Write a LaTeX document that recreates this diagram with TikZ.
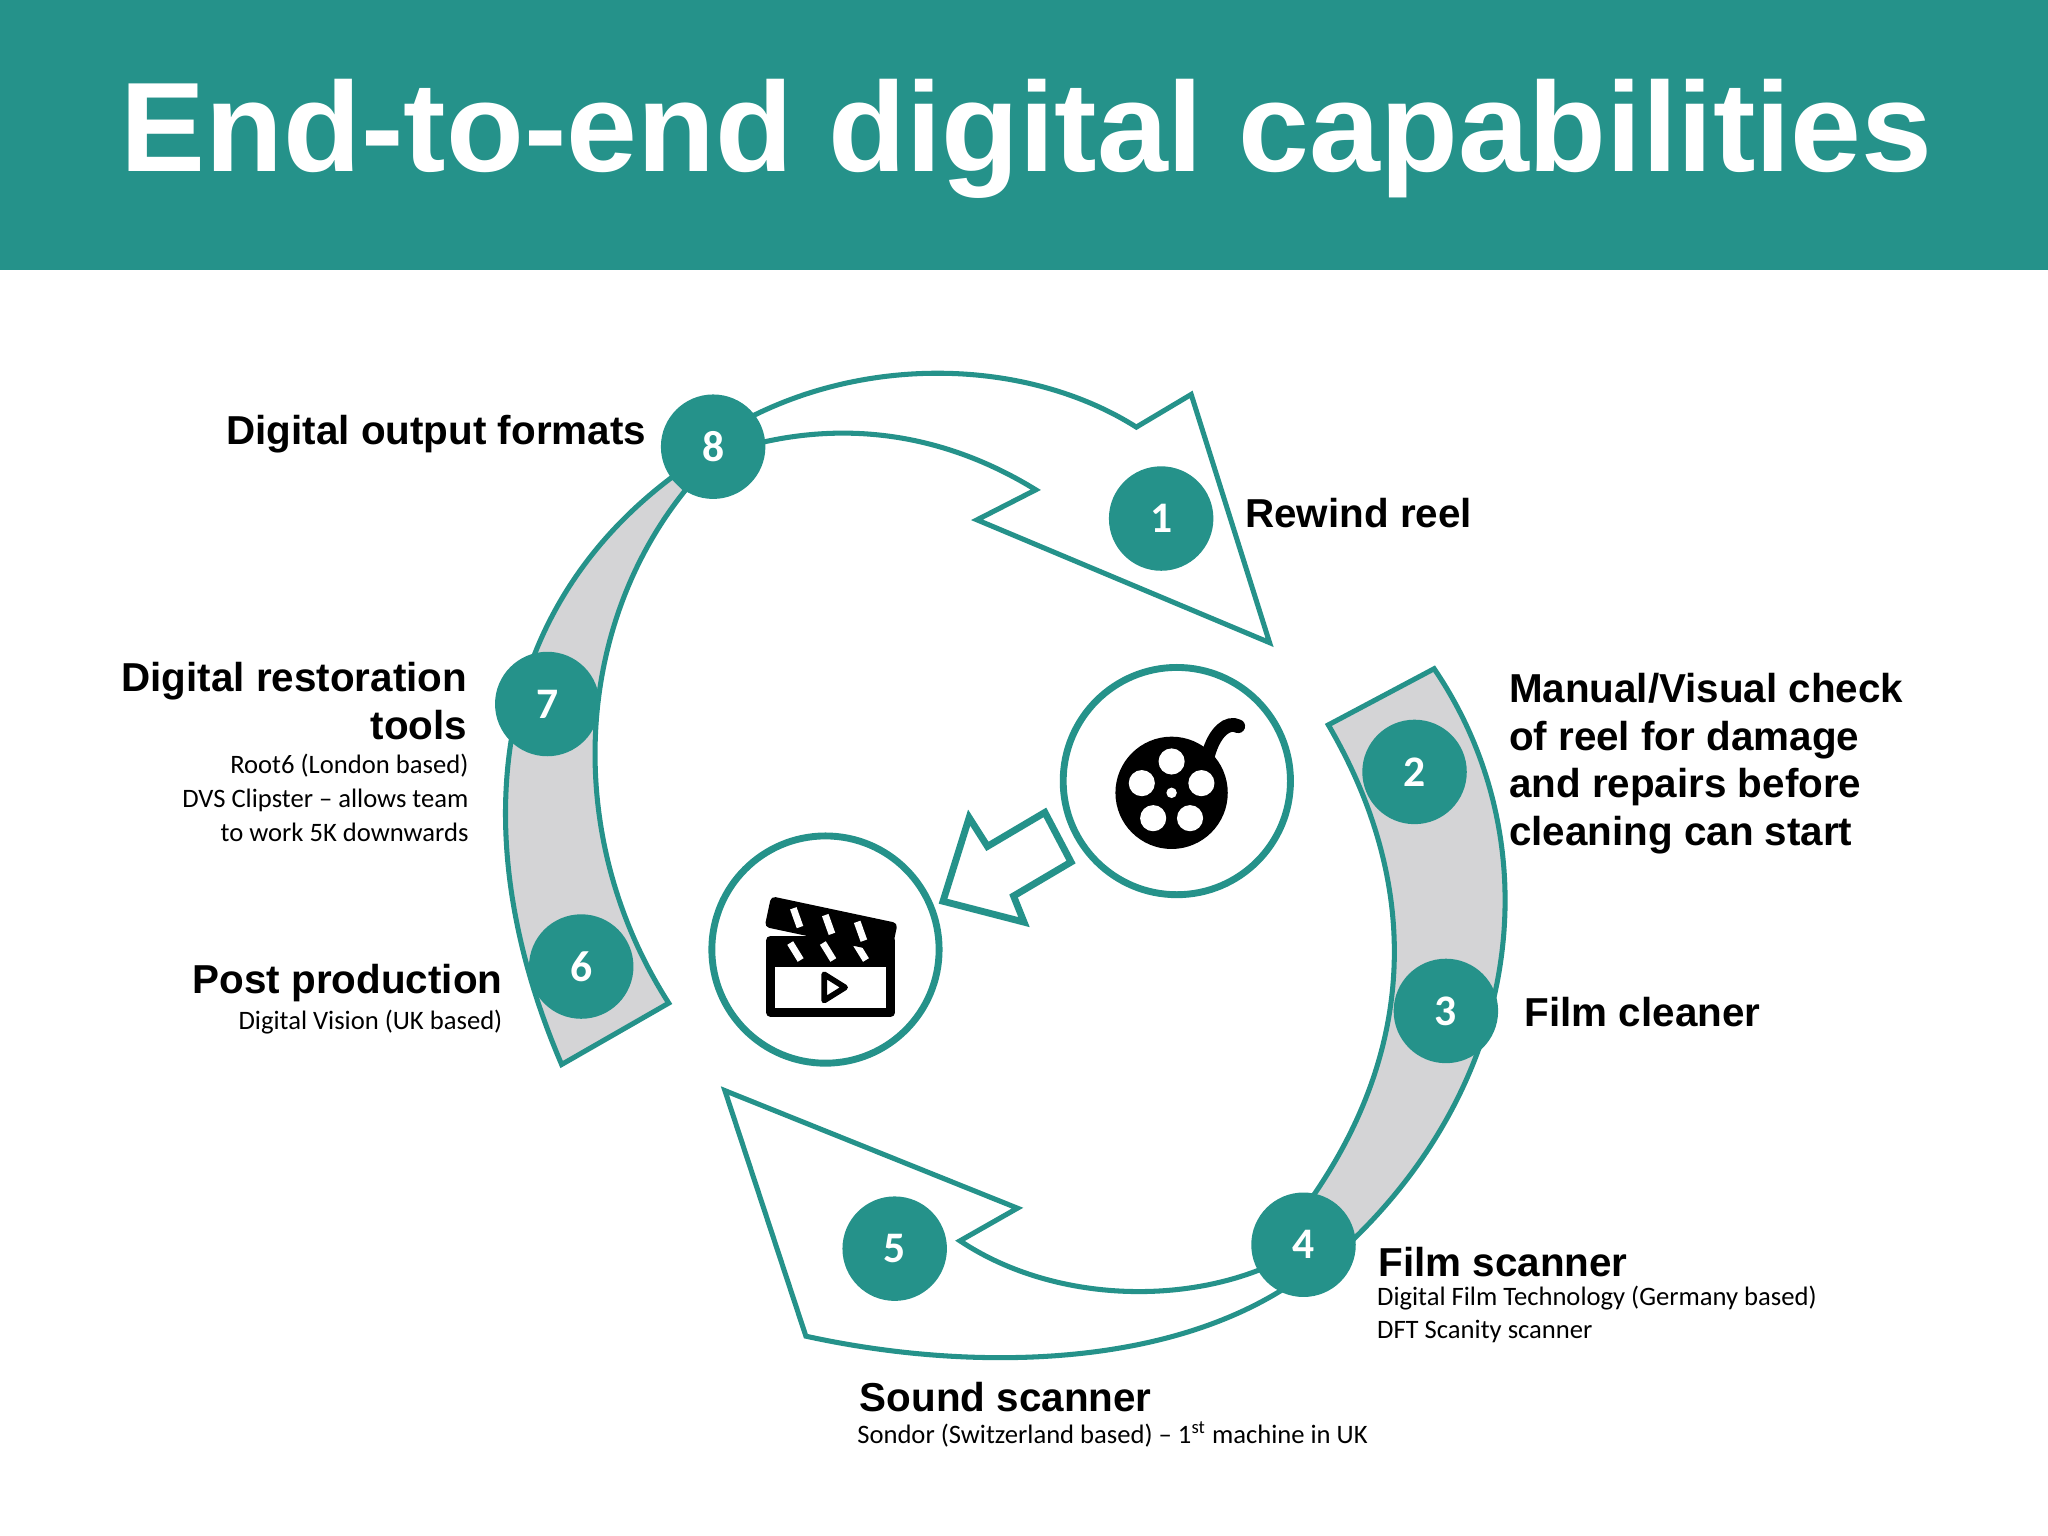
\documentclass[tikz,border=0pt]{standalone}
\usepackage{fontspec}
\usetikzlibrary{calc}
\setmainfont{Liberation Sans}
\newfontfamily\smallf{Carlito}
\newfontfamily\numf{Carlito}
\definecolor{teal1}{HTML}{25928A}
\definecolor{band}{HTML}{D4D4D6}
\begin{document}
\begin{tikzpicture}[x=0.02cm,y=-0.02cm,
  num/.style={circle,fill=teal1,minimum size=80*0.02cm,inner sep=0,text=white,font=\numf\bfseries\fontsize{19}{19}\selectfont},
  big/.style={font=\bfseries\fontsize{17.6}{20.8}\selectfont,inner sep=0},
  sm/.style={font=\smallf\fontsize{11.6}{14.7}\selectfont,inner sep=0},
  outl/.style={draw=teal1,line width=2.2pt,line join=miter},
  hub/.style={circle,draw=teal1,line width=3pt,fill=white,minimum size=174*0.02cm}]
\useasboundingbox (0,0) rectangle (1568,1176);
\fill[teal1] (0,0) rectangle (1568,207);
\node[text=white,font=\bfseries\fontsize{55.5}{55.5}\selectfont] (title) at (786,106) {End-to-end digital capabilities};
% left gray band
\draw[outl,fill=band] (512,768) -- (430,815) .. controls (355,640) and (375,470) .. (515,365)
  -- (525,375) .. controls (440,480) and (430,640) .. (512,768) -- cycle;
% right gray band
\draw[outl,fill=band] (1017,555) -- (1098,512) .. controls (1185,640) and (1170,820) .. (1035,950)
  -- (995,930) .. controls (1085,810) and (1090,680) .. (1017,555) -- cycle;
% top arrow
\draw[outl,fill=white] (540,340) .. controls (640,270) and (780,270) .. (870,327) -- (912,302) -- (972,492) -- (748,398) -- (793,375)
  .. controls (720,330) and (640,320) .. (560,345) -- cycle;
% bottom arrow
\draw[outl,fill=white] (1000,975) .. controls (900,1050) and (740,1050) .. (617,1023) -- (555,835) -- (779,925) -- (735,950)
  .. controls (810,1000) and (920,1000) .. (990,960) -- cycle;
% hubs
\node[hub] (reel) at (901,598) {};
\node[hub] (clap) at (632,727) {};
\draw[outl,line width=3pt,fill=white] (800,622) -- (820,660) -- (776,686) -- (784,706) -- (722,690) -- (742,626) -- (756,648) -- cycle;
% reel icon
\fill[black] (897,607) circle (43);
\draw[black,line width=6pt,line cap=round] (925,578) .. controls (930,560) and (940,552) .. (948,556);
\foreach \a in {90,162,234,306,18}
  \fill[white] ($(897,607)+(\a:-24)$) circle (10);
\fill[white] (897,607) circle (4);
% clapper icon
\begin{scope}[line width=4pt,line join=round]
\draw (590,720) rectangle (682,775);
\draw (590,737) -- (682,737);
\fill (590,720) rectangle (682,737);
\foreach \x in {605,630,655} \draw[white,line width=3pt] (\x,722) -- (\x+8,735);
\draw[rotate around={-12:(590,705)}] (590,690) rectangle (682,707);
\fill[rotate around={-12:(590,705)}] (590,690) rectangle (682,707);
\foreach \x in {605,630,655} \draw[white,line width=3pt,rotate around={-12:(590,705)}] (\x,692) -- (\x+8,705);
\draw[line width=2.5pt] (631,746) -- (631,766) -- (647,756) -- cycle;
\end{scope}
% numbers
\node[num] (n8) at (546,342) {8};
\node[num] (n1) at (889,397) {1};
\node[num] (n2) at (1083,591) {2};
\node[num] (n3) at (1107,774) {3};
\node[num] (n4) at (998,953) {4};
\node[num] (n5) at (685,956) {5};
\node[num] (n6) at (445,740) {6};
\node[num] (n7) at (419,539) {7};
% labels
\node[big,anchor=base east] (l8) at (495,340) {Digital output formats};
\node[big,anchor=base west] (l1) at (953,404) {Rewind reel};
\node[big,anchor=north west,align=left] (l2) at (1155,515) {Manual/Visual check\\of reel for damage\\and repairs before\\cleaning can start};
\node[big,anchor=base west] (l3) at (1167,786) {Film cleaner};
\node[big,anchor=base west] (l4) at (1055,977) {Film scanner};
\node[sm,anchor=north west,align=left] (s4) at (1054,984) {Digital Film Technology (Germany based)\\DFT Scanity scanner};
\node[big,anchor=base west] (l5) at (658,1081) {Sound scanner};
\node[sm,anchor=base west] (s5) at (656,1105) {Sondor (Switzerland based) – 1\textsuperscript{st} machine in UK};
\node[big,anchor=base east] (l6) at (385,761) {Post production};
\node[sm,anchor=base east] (s6) at (385,788) {Digital Vision (UK based)};
\node[big,anchor=north east,align=right] (l7) at (358,507) {Digital restoration\\tools};
\node[sm,anchor=north east,align=right] (s7) at (359,577) {Root6 (London based)\\DVS Clipster – allows team\\to work 5K downwards};
\end{tikzpicture}
\end{document}
